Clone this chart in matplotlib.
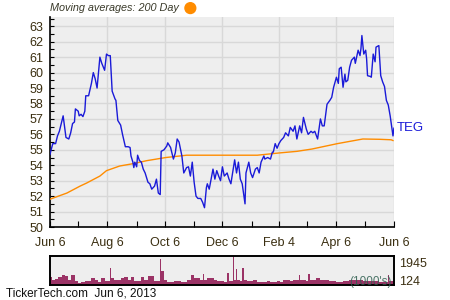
import matplotlib
matplotlib.use("Agg")
import matplotlib.pyplot as plt
import matplotlib.dates as mdates
import numpy as np
import pandas as pd

plt.rcParams["font.family"] = ["Liberation Sans", "DejaVu Sans"]

# date range of the chart (one year)
start = pd.Timestamp("2012-06-06")
end = pd.Timestamp("2013-06-06")

# TEG close, days after start
price_day = [0, 3, 6, 8, 10, 14, 17, 20, 22, 24, 26, 27, 30, 31, 33, 35, 37, 38, 41, 44,
             46, 48, 50, 53, 55, 58, 60, 62, 64, 66, 69, 70, 72, 75, 77, 80, 83, 85, 86, 88,
             89, 90, 92, 93, 95, 97, 99, 101, 104, 106, 108, 111, 113, 115, 117, 118, 121, 124, 125, 128,
             131, 133, 135, 137, 140, 142, 145, 147, 149, 151, 153, 155, 157, 160, 162, 164, 166, 167, 169, 171,
             173, 175, 177, 179, 181, 183, 185, 188, 190, 192, 196, 198, 200, 202, 204, 207, 208, 211, 213, 215,
             218, 220, 222, 224, 227, 228, 231, 234, 236, 237, 239, 241, 243, 245, 248, 250, 253, 255, 258, 260,
             262, 265, 267, 269, 272, 274, 277, 279, 281, 284, 287, 289, 291, 294, 297, 299, 301, 304, 306, 307,
             309, 311, 313, 314, 316, 318, 320, 323, 324, 327, 329, 330, 331, 333, 335, 336, 337, 340, 341, 343,
             345, 346, 349, 351, 353, 355, 357, 359, 361, 363, 364, 365]
price = [54.7, 55.4, 55.4, 55.9, 56.2, 57.2, 55.8, 55.7, 56.1, 56.7, 56.8, 57.65, 57.5, 57.2, 57.3, 57.15, 57.5, 58.5, 58.5, 59.3,
         60.0, 59.6, 59.0, 61.0, 60.6, 60.15, 61.2, 61.1, 61.1, 58.8, 58.3, 58.2, 56.9, 56.6, 56.0, 55.2, 55.2, 55.15, 54.6, 54.2,
         53.85, 54.2, 53.9, 54.65, 54.3, 54.2, 53.75, 53.5, 52.9, 52.8, 52.45, 52.65, 53.1, 52.2, 52.1, 54.9, 55.0, 55.25, 55.45, 55.15,
         54.4, 54.8, 55.7, 55.5, 54.6, 53.5, 53.85, 53.9, 53.3, 54.2, 52.9, 52.0, 51.85, 51.85, 51.6, 51.25, 52.55, 52.8, 52.45, 53.1,
         53.75, 53.1, 53.65, 53.3, 53.0, 53.9, 53.3, 53.5, 53.1, 52.8, 54.35, 53.5, 54.2, 53.1, 52.8, 51.5, 53.5, 54.2, 53.5, 53.2,
         53.75, 53.85, 53.5, 54.2, 54.6, 54.4, 54.5, 54.4, 54.85, 54.85, 55.4, 55.1, 55.4, 55.6, 55.8, 56.1, 55.9, 56.45, 56.2, 56.55,
         55.7, 56.55, 56.1, 57.1, 56.35, 56.0, 56.2, 56.1, 56.2, 55.7, 57.0, 56.55, 56.55, 57.95, 58.2, 58.4, 59.05, 59.7, 59.3, 60.25,
         60.35, 59.05, 59.9, 59.4, 59.5, 60.35, 60.8, 61.0, 60.6, 61.45, 61.1, 61.55, 62.4, 61.2, 61.45, 60.9, 59.8, 59.75, 59.7, 61.2,
         60.7, 61.65, 61.75, 59.8, 59.4, 59.1, 58.2, 57.9, 57.2, 56.35, 55.9, 56.4]

# 200 day moving average
ma_day = [0, 18, 32, 39, 53, 60, 74, 88, 103, 123, 145, 220, 244, 262, 278, 305, 332, 350, 362, 364]
ma = [51.8, 52.2, 52.65, 52.85, 53.3, 53.65, 53.95, 54.1, 54.3, 54.5, 54.65, 54.65, 54.8, 54.9, 55.05,
      55.4, 55.7, 55.68, 55.65, 55.6]

# volume (1000's), sampled twice a week
volume = [510, 325, 400, 510, 670, 600, 325, 670, 280, 140,
          185, 280, 280, 440, 325, 210, 440, 255, 255, 440,
          370, 370, 440, 510, 325, 510, 280, 280, 555, 325,
          600, 600, 280, 280, 975, 325, 185, 185, 280, 280,
          210, 210, 325, 670, 440, 440, 370, 370, 440, 440,
          370, 280, 280,
          210, 280, 255, 325, 370, 255, 325, 255, 255, 325,
          185, 210, 210, 255, 210, 210, 280, 185, 325, 325,
          280, 325, 325, 370, 370, 280, 370, 370, 440, 325,
          370, 370, 280, 280, 210, 210, 255, 255, 325, 325,
          325, 325, 255, 255, 255, 280, 280, 210, 210, 210,
          280, 280]
spike_dates = ["2012-08-09", "2012-10-01", "2012-11-16", "2012-12-12", "2012-12-18",
               "2012-12-21", "2012-12-28", "2013-02-26", "2013-03-08", "2013-05-31"]
spike_vol = [1135, 1760, 740, 790, 1945, 1070, 1115, 650, 740, 650]

xtick_dates = ["2012-06-06", "2012-08-06", "2012-10-06", "2012-12-06", "2013-02-04", "2013-04-06", "2013-06-06"]
xtick_labels = ["Jun 6", "Aug 6", "Oct 6", "Dec 6", "Feb 4", "Apr 6", "Jun 6"]
xminor_dates = ["2012-07-06", "2012-09-06", "2012-11-06", "2013-01-06", "2013-03-06", "2013-05-06"]

txt = "#3a2e10"
bg = "#eeeeee"

fig = plt.figure(figsize=(4.5, 3), dpi=100)
ax = fig.add_axes([0.111, 0.2433, 0.7644, 0.70])
ax.set_facecolor(bg)

pdates = start + pd.to_timedelta(price_day, unit="D")
mdts = start + pd.to_timedelta(ma_day, unit="D")
ax.plot(mdts, ma, color="#ff8c00", lw=1.0, zorder=3)
ax.plot(pdates, price, color="#1a1ad8", lw=1.0, zorder=4)

ax.set_xlim(start, end)
ax.set_ylim(50, 63.6)
ax.set_yticks(np.arange(50, 64, 1))
ax.set_yticks(np.arange(50, 63.6, 0.5), minor=True)
ax.set_xticks(pd.to_datetime(xtick_dates))
ax.set_xticklabels(xtick_labels)
ax.set_xticks(pd.to_datetime(xminor_dates), minor=True)
ax.grid(True, which="major", color="#d8d8d8", lw=1, zorder=0)
ax.set_axisbelow(True)
for s in ["top", "right"]:
    ax.spines[s].set_visible(False)
for s in ["left", "bottom"]:
    ax.spines[s].set_color("black")
    ax.spines[s].set_linewidth(1.2)
ax.tick_params(axis="y", which="both", direction="in", length=3, width=0.8, color="black",
               labelsize=9, labelcolor=txt, pad=5)
ax.tick_params(axis="x", which="both", direction="in", length=4, width=0.8, color="black",
               labelsize=9, labelcolor=txt, pad=7)

ax.text(1.008, price[-1], "TEG", transform=ax.get_yaxis_transform(), color="#1a1ad8",
        fontsize=9.5, va="center", ha="left")

fig.text(0.111, 0.972, "Moving averages: 200 Day", fontsize=7.8, style="italic",
         color="#3a3a2a", va="center", ha="left")
fig.patches.append(matplotlib.patches.Ellipse((0.423, 0.973), 0.024, 0.036, transform=fig.transFigure,
                                              color="#ff8c00", figure=fig))

# volume panel
axv = fig.add_axes([0.111, 0.05, 0.7644, 0.0967])
axv.set_facecolor(bg)
vdates = pd.date_range(start, end, periods=len(volume))
step = (end - start).days / (len(volume) - 1)
axv.bar(vdates, volume, width=step, color="#9b3366", linewidth=0, align="center")
axv.bar(pd.to_datetime(spike_dates), spike_vol, width=1.4, color="#9b3366", linewidth=0)
axv.set_xlim(start, end)
axv.set_ylim(0, 1960)
axv.set_xticks([])
axv.set_yticks([])
for s in axv.spines.values():
    s.set_color("black")
    s.set_linewidth(1.4)
axv.text(1.015, 0.72, "1945", transform=axv.transAxes, fontsize=9, color=txt, va="center", ha="left")
axv.text(1.015, 0.10, "124", transform=axv.transAxes, fontsize=9, color=txt, va="center", ha="left")
axv.text(0.995, 0.12, "(1000's)", transform=axv.transAxes, fontsize=8.5, color="#2f5f50",
         va="center", ha="right", alpha=0.85)

fig.text(0.013, 0.02, "TickerTech.com  Jun 6, 2013", fontsize=8.5, color="#111111",
         va="center", ha="left")

fig.savefig("out.png", dpi=100)
